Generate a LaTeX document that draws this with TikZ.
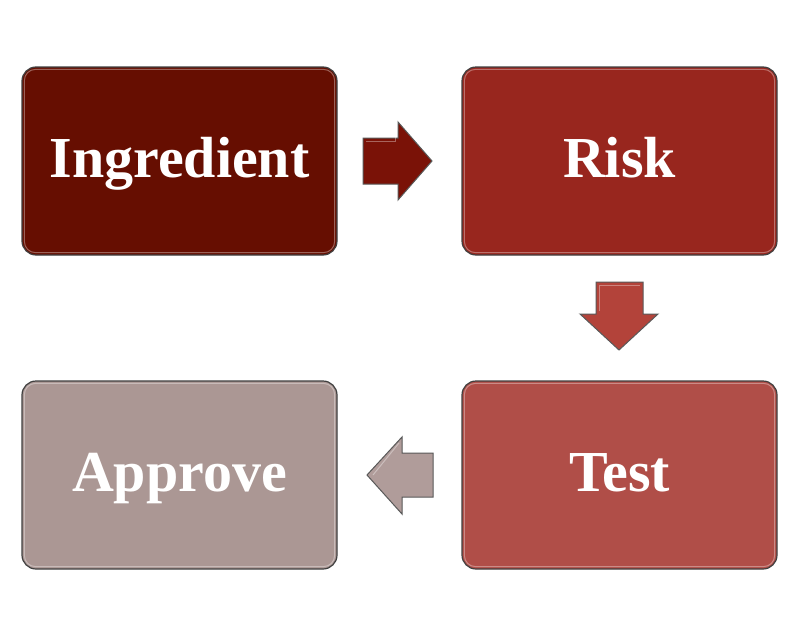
\documentclass[tikz,border=0pt]{standalone}
\usepackage{fontspec}
\setmainfont{Liberation Serif}
\definecolor{cIng}{HTML}{660E01}
\definecolor{cRisk}{HTML}{98261E}
\definecolor{cTest}{HTML}{B04E48}
\definecolor{cAppr}{HTML}{AB9794}
\definecolor{aOne}{HTML}{7A1207}
\definecolor{aTwo}{HTML}{B3433A}
\definecolor{aThree}{HTML}{B09C9A}
\tikzset{
  stagebox/.style={draw=black!75, line width=1.2pt, rounded corners=14pt, minimum width=315pt, minimum height=188pt, inner sep=0pt, text height=45pt, text depth=13pt, text=white, font=\bfseries\fontsize{58}{60}\selectfont},
  arrowshape/.style={draw=black!65, line width=1pt, line join=miter},
  bevel/.style={draw=white, opacity=0.35, line width=1pt},
}
\begin{document}
\begin{tikzpicture}[x=1pt,y=-1pt]
\useasboundingbox (0,0) rectangle (800,640);
\fill[white] (0,0) rectangle (800,640);
% boxes
\node[stagebox, fill=cIng] (ing) at (179.5,161) {Ingredient};
\node[stagebox, fill=cRisk] (risk) at (619.5,161) {Risk};
\node[stagebox, fill=cTest] (test) at (619.5,475) {Test};
\node[stagebox, fill=cAppr] (appr) at (179.5,475) {Approve};
% inner highlight
\foreach \n in {ing,risk,test,appr}{
  \draw[bevel, rounded corners=11pt] ([shift={(3,-3)}]\n.south west) rectangle ([shift={(-3,3)}]\n.north east);
}
% right arrow
\filldraw[arrowshape, fill=aOne] (363,138) -- (398,138) -- (398,122) -- (432,161) -- (398,200) -- (398,184) -- (363,184) -- cycle;
\draw[bevel] (366,141) -- (395,141) -- (395,128);
% down arrow
\filldraw[arrowshape, fill=aTwo] (596,282) -- (643,282) -- (643,314) -- (658,314) -- (619,350) -- (580,314) -- (596,314) -- cycle;
\draw[bevel] (599,311) -- (599,285) -- (640,285);
% left arrow
\filldraw[arrowshape, fill=aThree] (433,453) -- (402,453) -- (402,437) -- (367,475) -- (402,514) -- (402,497) -- (433,497) -- cycle;
\draw[bevel] (399,443) -- (373,475);
\end{tikzpicture}
\end{document}
